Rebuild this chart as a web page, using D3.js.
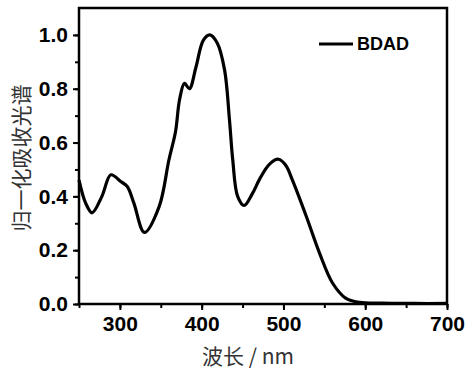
<!DOCTYPE html>
<html lang="en">
<head>
    <meta charset="UTF-8">
    <script src="https://cdn.jsdelivr.net/npm/d3@7"></script>
    <title>BDAD absorption</title>
    <style>
        body { margin: 0; background: white; }
        .tick text { font-family: 'Liberation Sans', Arial, sans-serif; font-weight: bold; }
    </style>
</head>
<body>
    <div id="chart"></div>
    <script>
        // wavelength (nm) and normalized absorbance
        const wavelength = [250, 258, 266, 278, 289, 301, 309, 317, 330, 348, 360, 368, 373, 379, 385, 393, 402, 410, 419, 428, 434, 438, 444, 452, 462, 471, 483, 494, 503, 511, 528, 544, 560, 576, 593, 620, 660, 700];
        const absorbance = [0.46, 0.376, 0.339, 0.40, 0.48, 0.455, 0.437, 0.376, 0.266, 0.362, 0.536, 0.64, 0.76, 0.82, 0.80, 0.88, 0.98, 1.0, 0.97, 0.87, 0.684, 0.536, 0.40, 0.366, 0.41, 0.465, 0.52, 0.538, 0.515, 0.46, 0.325, 0.19, 0.078, 0.022, 0.006, 0.003, 0.002, 0.002];
        const xTicks = [300, 400, 500, 600, 700];
        const yTicks = [0.0, 0.2, 0.4, 0.6, 0.8, 1.0];
        const seriesName = "BDAD";

        const width = 474, height = 374;
        const margin = { left: 79, right: 27, top: 8, bottom: 70 };

        const svg = d3.select("#chart").append("svg")
            .attr("width", width)
            .attr("height", height);

        const x = d3.scaleLinear().domain([250, 700]).range([margin.left, width - margin.right]);
        const y = d3.scaleLinear().domain([0, 1.1]).range([height - margin.bottom, margin.top]);

        // minor ticks first
        svg.append("g")
            .attr("transform", `translate(0,${y(0)})`)
            .call(d3.axisBottom(x).tickValues(d3.range(250, 701, 50)).tickSize(4).tickFormat(""))
            .call(g => g.select(".domain").remove())
            .call(g => g.selectAll("line").attr("stroke-width", 2));
        svg.append("g")
            .attr("transform", `translate(${x(250)},0)`)
            .call(d3.axisLeft(y).tickValues(d3.range(0, 1.05, 0.1)).tickSize(4).tickFormat(""))
            .call(g => g.select(".domain").remove())
            .call(g => g.selectAll("line").attr("stroke-width", 2));

        // major ticks and labels
        const xAxis = svg.append("g")
            .attr("transform", `translate(0,${y(0)})`)
            .call(d3.axisBottom(x).tickValues(xTicks).tickSize(6).tickPadding(6).tickFormat(d3.format("d")));
        xAxis.select(".domain").remove();
        xAxis.selectAll("line").attr("stroke-width", 2);
        xAxis.selectAll("text").attr("font-size", 21).attr("fill", "#000");

        const yAxis = svg.append("g")
            .attr("transform", `translate(${x(250)},0)`)
            .call(d3.axisLeft(y).tickValues(yTicks).tickSize(6).tickPadding(5).tickFormat(d3.format(".1f")));
        yAxis.select(".domain").remove();
        yAxis.selectAll("line").attr("stroke-width", 2);
        yAxis.selectAll("text").attr("font-size", 21).attr("fill", "#000");

        // frame
        svg.append("rect")
            .attr("x", x(250)).attr("y", y(1.1))
            .attr("width", x(700) - x(250)).attr("height", y(0) - y(1.1))
            .attr("fill", "none").attr("stroke", "#000").attr("stroke-width", 2.5);

        // spectrum
        const pts = wavelength.map((w, i) => [w, absorbance[i]]);
        const line = d3.line()
            .x(d => x(d[0]))
            .y(d => y(d[1]))
            .curve(d3.curveCatmullRom.alpha(0.5));
        svg.append("path")
            .datum(pts)
            .attr("d", line)
            .attr("fill", "none")
            .attr("stroke", "#000")
            .attr("stroke-width", 3.2)
            .attr("stroke-linejoin", "round");

        // legend
        svg.append("line")
            .attr("x1", 319).attr("x2", 353).attr("y1", 44).attr("y2", 44)
            .attr("stroke", "#000").attr("stroke-width", 3.2);
        svg.append("text")
            .attr("x", 357).attr("y", 50)
            .attr("font-family", "'Liberation Sans', Arial, sans-serif")
            .attr("font-weight", "bold").attr("font-size", 18)
            .text(seriesName);

        // axis titles
        svg.append("text")
            .attr("x", 248).attr("y", 364)
            .attr("text-anchor", "middle")
            .attr("font-family", "'Noto Sans CJK SC', sans-serif")
            .attr("font-size", 21).attr("fill", "#333")
            .text("波长 / nm");
        svg.append("text")
            .attr("transform", `translate(29,${(y(0) + y(1.1)) / 2 + 2}) rotate(-90)`)
            .attr("text-anchor", "middle")
            .attr("font-family", "'Noto Sans CJK SC', sans-serif")
            .attr("font-size", 21).attr("fill", "#333")
            .text("归一化吸收光谱");
    </script>
</body>
</html>
